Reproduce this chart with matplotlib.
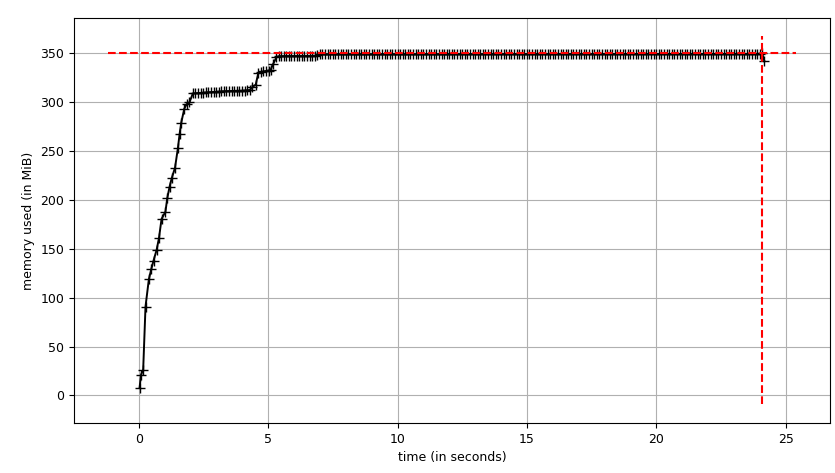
import matplotlib
matplotlib.use("Agg")
import matplotlib.pyplot as plt

plt.rcParams["font.size"] = 9

# sampled memory usage (seconds, MiB)
t_start = [0.03, 0.09, 0.17, 0.26, 0.39, 0.48, 0.57, 0.69, 0.78, 0.88,
           1.03, 1.10, 1.19, 1.27, 1.40, 1.51, 1.58, 1.64, 1.76, 1.85,
           1.96, 2.09]
mem_start = [7.9, 21.4, 26.5, 91.0, 119.0, 129.0, 138.0, 149.0, 161.0, 180.6,
             188.0, 201.7, 213.6, 222.0, 233.0, 252.7, 268.0, 279.0, 293.5, 298.0,
             300.0, 309.0]

t_mid = [2.19, 2.29, 2.39, 2.49, 2.59, 2.69, 2.79, 2.89, 2.99, 3.09,
         3.19, 3.29, 3.39, 3.49, 3.59, 3.69, 3.79, 3.89, 3.99, 4.09,
         4.19, 4.29, 4.39, 4.52, 4.62, 4.72, 4.82, 4.92, 5.02, 5.10,
         5.19, 5.32]
mem_mid = [309.2, 309.4, 309.6, 309.8, 310.0, 310.2, 310.4, 310.6, 310.8, 311.0,
           311.1, 311.2, 311.3, 311.4, 311.5, 311.6, 311.7, 311.8, 311.9, 312.0,
           312.2, 312.5, 315.6, 318.0, 330.0, 331.0, 331.5, 332.0, 332.5, 333.5,
           339.0, 346.0]

t_end = [5.4, 5.5, 5.6, 5.7, 5.8, 5.9,
         6.0, 6.1, 6.2, 6.3, 6.4, 6.5, 6.6, 6.7, 6.8, 6.9,
         7.0, 7.1, 7.2, 7.3, 7.4, 7.5, 7.6, 7.7, 7.8, 7.9,
         8.0, 8.1, 8.2, 8.3, 8.4, 8.5, 8.6, 8.7, 8.8, 8.9,
         9.0, 9.1, 9.2, 9.3, 9.4, 9.5, 9.6, 9.7, 9.8, 9.9,
         10.0, 10.1, 10.2, 10.3, 10.4, 10.5, 10.6, 10.7, 10.8, 10.9,
         11.0, 11.1, 11.2, 11.3, 11.4, 11.5, 11.6, 11.7, 11.8, 11.9,
         12.0, 12.1, 12.2, 12.3, 12.4, 12.5, 12.6, 12.7, 12.8, 12.9,
         13.0, 13.1, 13.2, 13.3, 13.4, 13.5, 13.6, 13.7, 13.8, 13.9,
         14.0, 14.1, 14.2, 14.3, 14.4, 14.5, 14.6, 14.7, 14.8, 14.9,
         15.0, 15.1, 15.2, 15.3, 15.4, 15.5, 15.6, 15.7, 15.8, 15.9,
         16.0, 16.1, 16.2, 16.3, 16.4, 16.5, 16.6, 16.7, 16.8, 16.9,
         17.0, 17.1, 17.2, 17.3, 17.4, 17.5, 17.6, 17.7, 17.8, 17.9,
         18.0, 18.1, 18.2, 18.3, 18.4, 18.5, 18.6, 18.7, 18.8, 18.9,
         19.0, 19.1, 19.2, 19.3, 19.4, 19.5, 19.6, 19.7, 19.8, 19.9,
         20.0, 20.1, 20.2, 20.3, 20.4, 20.5, 20.6, 20.7, 20.8, 20.9,
         21.0, 21.1, 21.2, 21.3, 21.4, 21.5, 21.6, 21.7, 21.8, 21.9,
         22.0, 22.1, 22.2, 22.3, 22.4, 22.5, 22.6, 22.7, 22.8, 22.9,
         23.0, 23.1, 23.2, 23.3, 23.4, 23.5, 23.6, 23.7, 23.8, 23.9,
         24.0, 24.09, 24.18]
mem_end = [347.0, 347.1, 347.2, 347.2, 347.2, 347.2,
           347.2, 347.2, 347.2, 347.3, 347.3, 347.3, 347.3, 347.3, 347.4, 348.5,
           349.0, 349.0, 349.0, 349.0, 349.0, 349.0, 349.0, 349.0, 349.0, 349.0,
           349.0, 349.0, 349.0, 349.0, 349.0, 349.0, 349.0, 349.0, 349.0, 349.0,
           349.0, 349.0, 349.0, 349.0, 349.0, 349.0, 349.0, 349.1, 349.1, 349.1,
           349.1, 349.1, 349.1, 349.1, 349.1, 349.1, 349.1, 349.1, 349.1, 349.1,
           349.1, 349.1, 349.1, 349.1, 349.1, 349.1, 349.1, 349.1, 349.1, 349.1,
           349.2, 349.2, 349.2, 349.2, 349.2, 349.2, 349.2, 349.2, 349.2, 349.2,
           349.2, 349.2, 349.2, 349.2, 349.2, 349.2, 349.2, 349.2, 349.2, 349.2,
           349.2, 349.2, 349.2, 349.2, 349.2, 349.2, 349.2, 349.2, 349.2, 349.2,
           349.3, 349.3, 349.3, 349.3, 349.3, 349.3, 349.3, 349.3, 349.3, 349.3,
           349.3, 349.3, 349.3, 349.3, 349.3, 349.3, 349.3, 349.3, 349.3, 349.3,
           349.3, 349.3, 349.3, 349.3, 349.3, 349.3, 349.3, 349.3, 349.3, 349.3,
           349.3, 349.3, 349.3, 349.3, 349.3, 349.3, 349.3, 349.3, 349.3, 349.3,
           349.4, 349.4, 349.4, 349.4, 349.4, 349.4, 349.4, 349.4, 349.4, 349.4,
           349.4, 349.4, 349.4, 349.4, 349.4, 349.4, 349.4, 349.4, 349.4, 349.4,
           349.4, 349.4, 349.4, 349.4, 349.4, 349.4, 349.4, 349.4, 349.4, 349.4,
           349.5, 349.5, 349.5, 349.5, 349.5, 349.5, 349.5, 349.5, 349.5, 349.5,
           349.5, 349.5, 349.5, 349.5, 349.5, 349.5, 349.5, 349.5, 349.5, 349.5,
           349.6, 350.3, 342.0]

t = t_start + t_mid + t_end
mem = mem_start + mem_mid + mem_end

fig = plt.figure(figsize=(8.35, 4.73), dpi=100)
ax = fig.add_axes([0.0886, 0.106, 0.9054, 0.856])

ax.plot(t, mem, "+-k", markersize=6.5, linewidth=1.4)

# max memory markers, drawn over the current limits like mprof does
max_mem = max(mem)
max_idx = mem.index(max_mem)
xlo, xhi = ax.get_xlim()
ylo, yhi = ax.get_ylim()
ax.hlines(max_mem, xlo + 0.001, xhi - 0.001, colors="r", linestyles="--")
ax.vlines(t[max_idx], ylo + 0.001, yhi - 0.001, colors="r", linestyles="--")

ax.set_xlabel("time (in seconds)")
ax.set_ylabel("memory used (in MiB)")
ax.grid()

fig.savefig("out.png", dpi=100)
